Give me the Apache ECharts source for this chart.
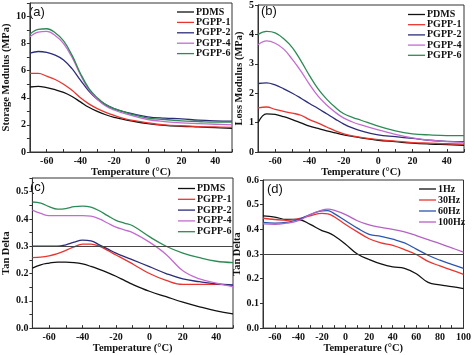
<!DOCTYPE html>
<html><head><meta charset="utf-8">
<script src="https://cdn.jsdelivr.net/npm/echarts@6/dist/echarts.min.js"></script>
<style>html,body{margin:0;padding:0;background:#fff}#c{width:474px;height:355px}</style>
</head><body><div id="c"></div>
<script>
// ---- data ----
const tempABC = [-70,-65,-60,-55,-50,-45,-40,-35,-30,-25,-20,-15,-10,0,10,20,30,40,50];
const tempD = [-70,-60,-50,-40,-30,-20,-15,-10,0,10,20,30,40,50,60,70,80,90,100];
const sampleNames = ['PDMS','PGPP-1','PGPP-2','PGPP-4','PGPP-6'];
const freqNames = ['1Hz','30Hz','60Hz','100Hz'];

const storagePDMS = [4.8,4.85,4.75,4.6,4.4,4.1,3.7,3.3,3.0,2.75,2.55,2.42,2.3,2.1,1.97,1.9,1.85,1.8,1.75];
const storageP1 = [5.8,5.8,5.6,5.35,5.0,4.55,4.0,3.55,3.2,2.93,2.7,2.5,2.35,2.15,2.0,1.93,1.88,1.85,1.82];
const storageP2 = [7.3,7.42,7.35,7.15,6.8,6.15,5.3,4.5,3.9,3.5,3.2,3.0,2.85,2.6,2.5,2.45,2.35,2.3,2.28];
const storageP4 = [8.5,8.85,8.9,8.6,8.0,7.0,5.7,4.6,3.9,3.4,3.1,2.88,2.7,2.4,2.25,2.15,2.1,2.05,2.0];
const storageP6 = [8.7,9.05,9.1,8.8,8.2,7.15,5.8,4.7,4.0,3.5,3.2,3.0,2.8,2.5,2.4,2.3,2.25,2.2,2.2];

const lossPDMS = [1.0,1.3,1.28,1.2,1.1,0.99,0.88,0.8,0.72,0.65,0.58,0.53,0.48,0.4,0.35,0.3,0.27,0.25,0.23];
const lossP1 = [1.5,1.53,1.45,1.38,1.32,1.25,1.1,0.98,0.85,0.72,0.62,0.55,0.5,0.42,0.37,0.32,0.3,0.28,0.27];
const lossP2 = [2.33,2.35,2.28,2.15,2.0,1.83,1.65,1.48,1.3,1.12,0.95,0.82,0.72,0.58,0.52,0.46,0.4,0.36,0.35];
const lossP4 = [3.65,3.78,3.7,3.5,3.15,2.75,2.3,1.9,1.6,1.35,1.15,1.02,0.92,0.75,0.6,0.48,0.4,0.35,0.33];
const lossP6 = [4.0,4.1,4.05,3.85,3.55,3.1,2.6,2.15,1.8,1.52,1.3,1.18,1.08,0.88,0.72,0.62,0.58,0.56,0.56];

const tanPDMS = [0.22,0.232,0.238,0.242,0.242,0.24,0.235,0.226,0.215,0.203,0.19,0.175,0.16,0.135,0.115,0.095,0.078,0.063,0.052];
const tanP1 = [0.258,0.26,0.265,0.273,0.285,0.298,0.308,0.308,0.3,0.285,0.268,0.252,0.235,0.2,0.175,0.16,0.16,0.16,0.155];
const tanP2 = [0.3,0.3,0.3,0.3,0.305,0.315,0.322,0.32,0.305,0.29,0.275,0.262,0.25,0.225,0.2,0.18,0.17,0.162,0.158];
const tanP4 = [0.432,0.42,0.412,0.412,0.412,0.412,0.412,0.41,0.4,0.385,0.37,0.36,0.35,0.315,0.27,0.21,0.18,0.165,0.152];
const tanP6 = [0.462,0.458,0.445,0.436,0.438,0.445,0.447,0.443,0.43,0.412,0.395,0.385,0.375,0.335,0.3,0.275,0.258,0.245,0.24];

const tan1Hz = [0.455,0.45,0.44,0.44,0.42,0.395,0.387,0.375,0.34,0.3,0.278,0.26,0.248,0.242,0.22,0.185,0.175,0.168,0.16];
const tan30Hz = [0.445,0.44,0.437,0.443,0.455,0.465,0.463,0.452,0.42,0.39,0.362,0.345,0.335,0.318,0.298,0.27,0.252,0.235,0.218];
const tan60Hz = [0.428,0.425,0.428,0.44,0.46,0.475,0.476,0.465,0.435,0.405,0.38,0.372,0.36,0.345,0.32,0.295,0.275,0.258,0.242];
const tan100Hz = [0.422,0.42,0.425,0.435,0.46,0.478,0.482,0.478,0.46,0.435,0.418,0.408,0.4,0.39,0.375,0.358,0.342,0.325,0.308];

const refLine = 0.3;

// ---- style ----
const sampleColors = ['#111111','#e8352f','#2b2d78','#c46bd0','#2e8a55'];
const freqColors = ['#111111','#e8352f','#2d55b0','#b562c4'];
const FONT = 'Liberation Serif';
const AX = '#333';

const chart = echarts.init(document.getElementById('c'), null, {renderer:'canvas'});

function xAxis(gi, max){
  return {
    type:'value', gridIndex:gi, min:-70, max:max, interval:10,
    name:'Temperature (\u00B0C)', nameLocation:'middle', nameGap:13,
    nameTextStyle:{fontFamily:FONT,fontWeight:'bold',fontSize:10.5,color:'#111'},
    axisLine:{show:true,onZero:false,lineStyle:{color:AX,width:1}},
    axisTick:{show:true,inside:true,length:3,lineStyle:{color:AX}},
    axisLabel:{fontFamily:FONT,fontWeight:'bold',fontSize:10,color:'#111',margin:4,
      formatter:v=>(Math.round(v)%20===0? String(Math.round(v)) : '')},
    splitLine:{show:false}
  };
}
function yAxis(gi, max, interval, name, gap, fmt){
  return {
    type:'value', gridIndex:gi, min:0, max:max, interval:interval,
    name:name, nameLocation:'middle', nameGap:gap,
    nameTextStyle:{fontFamily:FONT,fontWeight:'bold',fontSize:10.5,color:'#111'},
    axisLine:{show:true,onZero:false,lineStyle:{color:AX,width:1}},
    axisTick:{show:true,inside:false,length:3,lineStyle:{color:AX}},
    axisLabel:{fontFamily:FONT,fontWeight:'bold',fontSize:10,color:'#111',margin:4,formatter:fmt},
    splitLine:{show:false}
  };
}
function mkSeries(name, xs, ys, color, gi, mark){
  const s = {
    name:name, type:'line', xAxisIndex:gi, yAxisIndex:gi,
    data: xs.map((x,i)=>[x,ys[i]]), smooth:0.4, symbol:'none',
    lineStyle:{color:color,width:1.3}, itemStyle:{color:color}, z:3
  };
  if(mark){
    s.markLine = {silent:true,symbol:'none',label:{show:false},
      lineStyle:{color:'#444',width:1,type:'solid'},data:[{yAxis:refLine}]};
  }
  return s;
}
function legend(names, left, top, gap){
  return {data:names, orient:'vertical', left:left, top:top, itemWidth:17, itemHeight:8, itemGap:gap,
    icon:'path://M0,0 H17 V1.3 H0 Z',
    textStyle:{fontFamily:FONT,fontWeight:'bold',fontSize:10,color:'#111',padding:[0,0,0,-3]},
    padding:0, selectedMode:false};
}

const evenFmt = v=>(Math.round(v)%2===0? String(Math.round(v)) : '');
const intFmt = v=>String(Math.round(v));
const tenthFmt = v=>(Math.round(v*100)%10===0? (Math.round(v*10)/10).toFixed(1) : '');

const storage = [storagePDMS,storageP1,storageP2,storageP4,storageP6];
const loss = [lossPDMS,lossP1,lossP2,lossP4,lossP6];
const tan = [tanPDMS,tanP1,tanP2,tanP4,tanP6];
const freq = [tan1Hz,tan30Hz,tan60Hz,tan100Hz];

const series = [];
sampleNames.forEach((n,i)=>series.push(mkSeries(n,tempABC,storage[i],sampleColors[i],0)));
sampleNames.forEach((n,i)=>series.push(mkSeries(n,tempABC,loss[i],sampleColors[i],1)));
sampleNames.forEach((n,i)=>series.push(mkSeries(n,tempABC,tan[i],sampleColors[i],2,i===0)));
freqNames.forEach((n,i)=>series.push(mkSeries(n,tempD,freq[i],freqColors[i],3,i===0)));

const gridStyle = {show:true, borderColor:AX, borderWidth:1, backgroundColor:'transparent', containLabel:false};

chart.setOption({
  backgroundColor:'#fff',
  animation:false,
  grid:[
    Object.assign({left:26, top:3, width:206, height:149}, gridStyle),
    Object.assign({left:258, top:2, width:206, height:150}, gridStyle),
    Object.assign({left:26, top:178, width:207, height:154}, gridStyle),
    Object.assign({left:263, top:180, width:204, height:150}, gridStyle)
  ],
  xAxis:[xAxis(0,50), xAxis(1,50), xAxis(2,50), xAxis(3,100)],
  yAxis:[
    yAxis(0,11,1,'Storage Modulus (MPa)',12.5,evenFmt),
    yAxis(1,5,1,'Loss Modulus (MPa)',12,intFmt),
    yAxis(2,0.55,0.05,'Tan Delta',14,tenthFmt),
    yAxis(3,0.6,0.1,'Tan Delta',16,tenthFmt)
  ],
  legend:[
    legend(sampleNames,177,7,0.4),
    legend(sampleNames,408,9.5,0.2),
    legend(sampleNames,178,183.5,0.8),
    legend(freqNames,419,184,1)
  ],
  graphic:[
    {type:'text',left:29,top:6,style:{text:'(a)',font:'13px "Liberation Sans"',fill:'#111'}},
    {type:'text',left:261,top:5,style:{text:'(b)',font:'13px "Liberation Sans"',fill:'#111'}},
    {type:'text',left:30,top:181,style:{text:'(c)',font:'13px "Liberation Sans"',fill:'#111'}},
    {type:'text',left:267,top:183,style:{text:'(d)',font:'13px "Liberation Sans"',fill:'#111'}}
  ],
  series:series
});
</script></body></html>
